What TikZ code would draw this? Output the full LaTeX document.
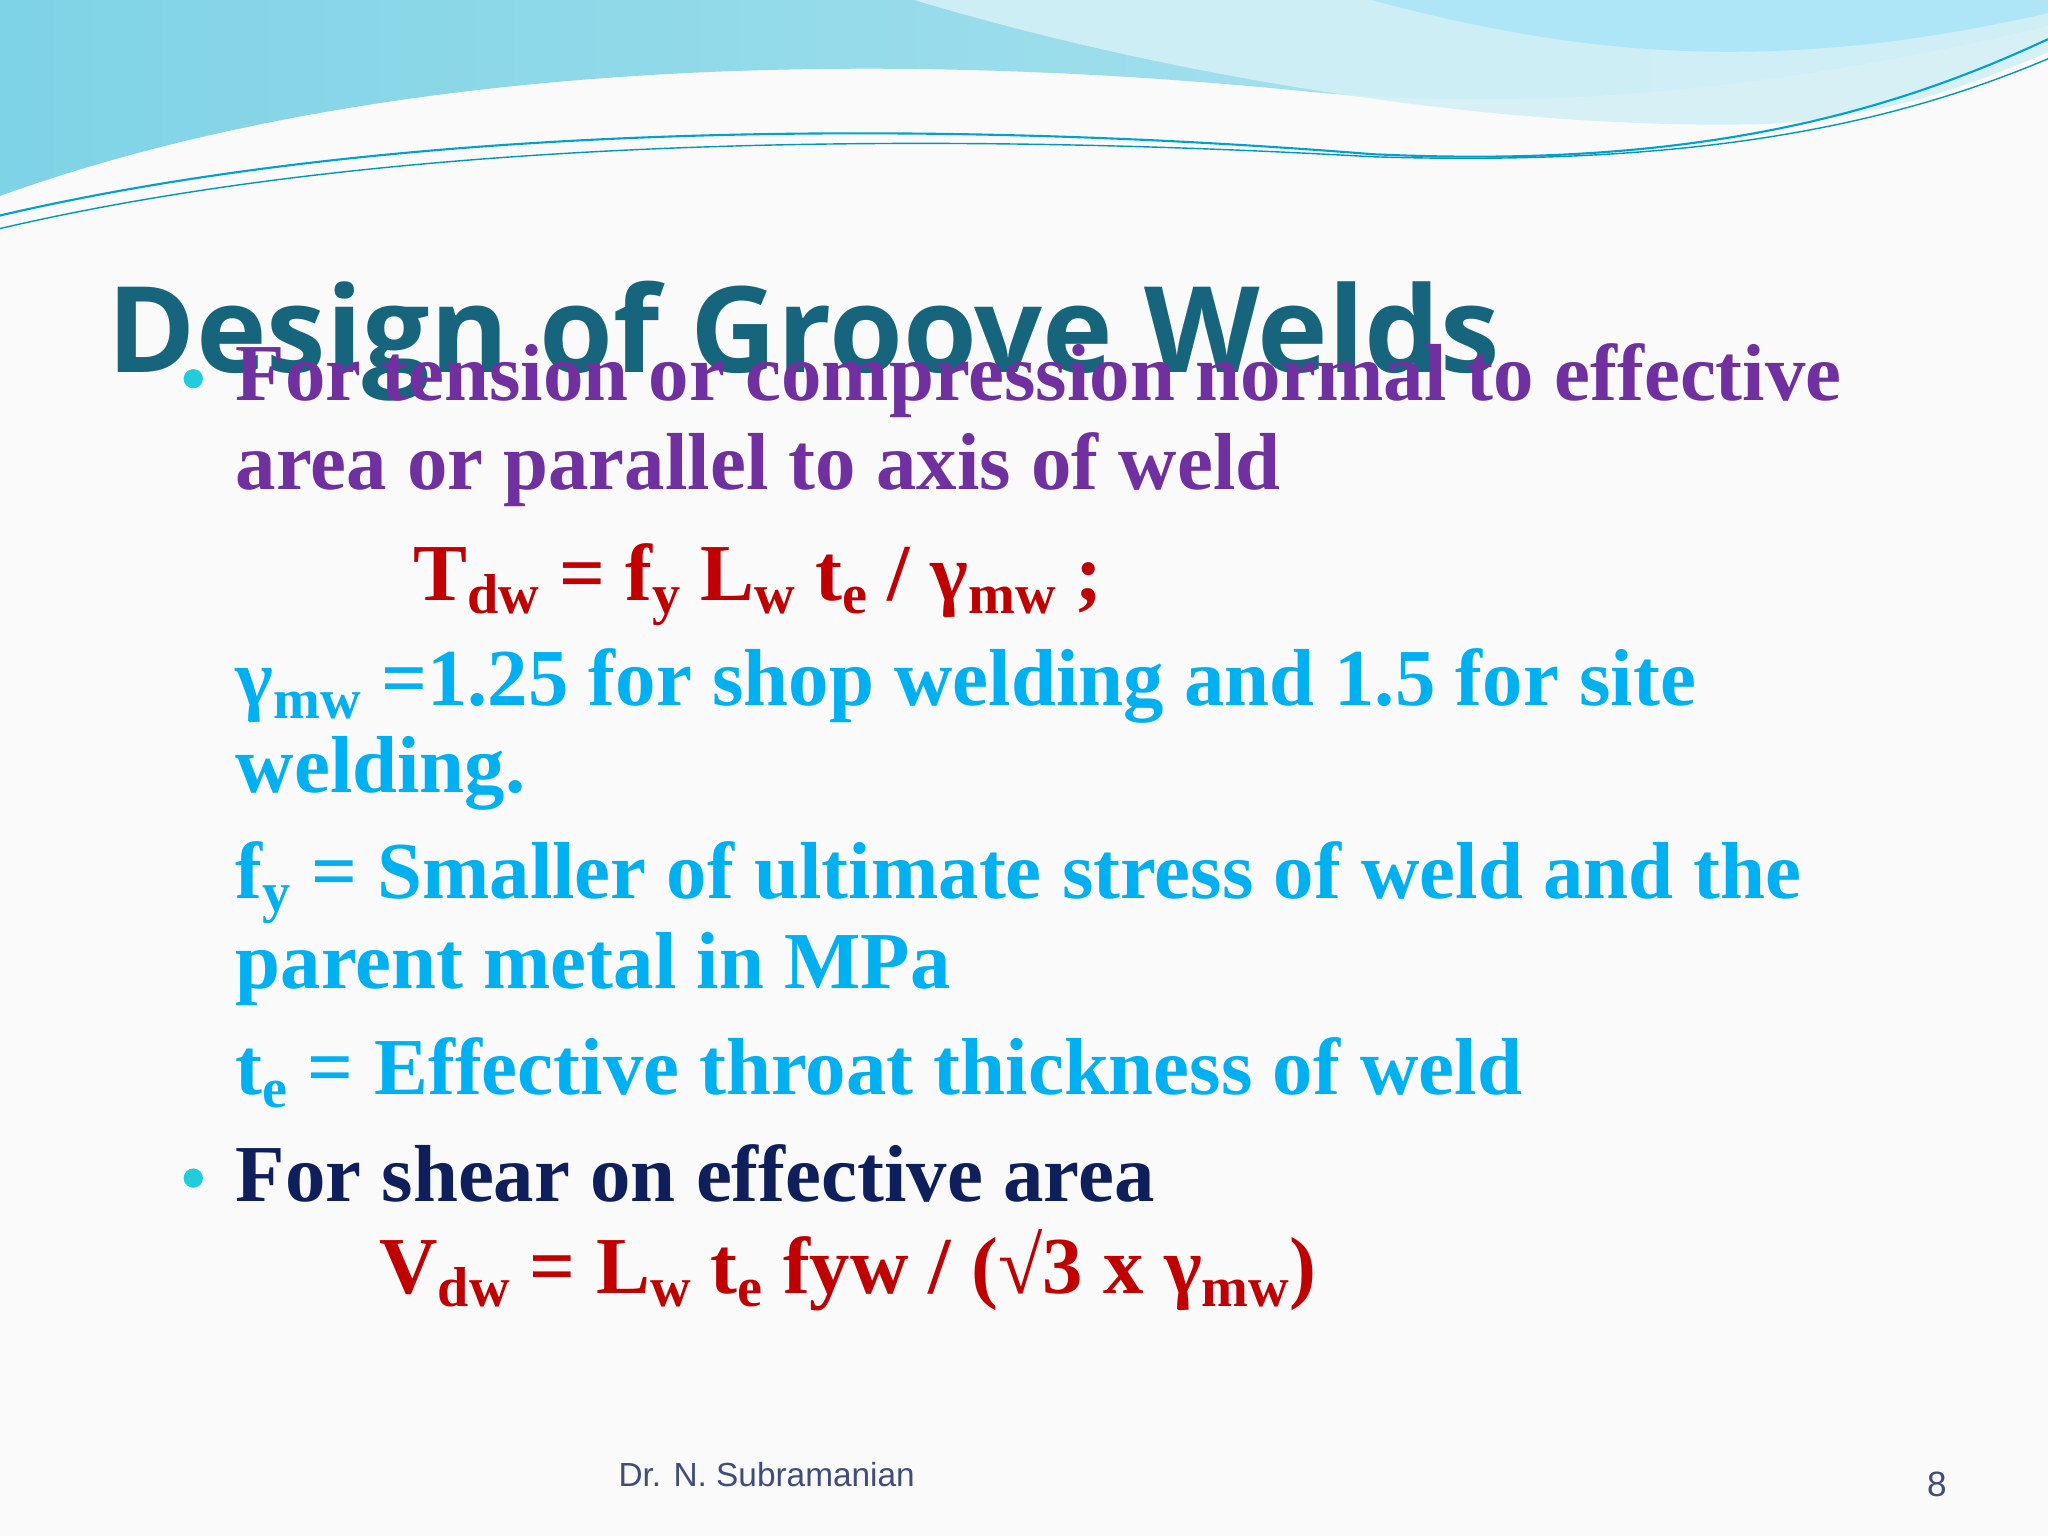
\documentclass[tikz,border=0pt]{standalone}
\usepackage{fontspec}
\setmainfont{Liberation Serif}
\newfontfamily\titlefont{Open Sans}
\newfontfamily\footfont{Liberation Sans}
\definecolor{ttl}{HTML}{17657D}
\definecolor{pur}{HTML}{7030A0}
\definecolor{rd}{HTML}{C00000}
\definecolor{cy}{HTML}{00B0F0}
\definecolor{nv}{HTML}{0F1F5C}
\definecolor{bul}{HTML}{22CCDD}
\definecolor{w1}{HTML}{7FD3E6}
\definecolor{w2}{HTML}{B5E6F0}
\newcommand{\sbs}[1]{\raisebox{-0.35ex}{\fontsize{16}{17}\selectfont\bfseries #1}}
\tikzset{txt/.style={anchor=base west,inner sep=0pt,font=\bfseries\fontsize{23}{27}\selectfont},
 bullet/.style={circle,fill=bul,inner sep=0pt,minimum size=5.5pt}}
\begin{document}
\begin{tikzpicture}[x=0.01306cm,y=-0.01306cm]
\useasboundingbox (0,0) rectangle (1568,1176);
\fill[white!96!gray] (0,0) rectangle (1568,1176);
% waves
\shade[left color=w1,right color=w2] (0,0) -- (0,150) .. controls (250,60) and (600,30) .. (1000,70) .. controls (1200,90) and (1400,60) .. (1568,20) -- (1568,0) -- cycle;
\fill[w2!60!white,opacity=0.9] (700,0) .. controls (900,60) and (1150,100) .. (1350,95) .. controls (1450,90) and (1520,60) .. (1568,40) -- (1568,0) -- cycle;
\fill[cy!40!white,opacity=0.6] (1050,0) .. controls (1200,40) and (1350,60) .. (1568,10) -- (1568,0) -- cycle;
\draw[cy!70!teal,line width=0.6pt] (0,165) .. controls (300,95) and (700,90) .. (1050,118) .. controls (1300,130) and (1450,85) .. (1568,30);
\draw[cy!50!teal,line width=0.4pt] (0,175) .. controls (300,105) and (700,100) .. (1050,120) .. controls (1300,128) and (1450,95) .. (1568,45);
\node[anchor=base west,inner sep=0pt,text=ttl,font=\titlefont\bfseries\fontsize{34}{40}\selectfont] (title) at (82,285) {Design of Groove Welds};
\node[bullet] (b1) at (148,290) {};
\node[txt,text=pur] (l1) at (180,307) {For tension or compression normal to effective};
\node[txt,text=pur] (l2) at (180,375) {area or parallel to axis of weld};
\node[txt,text=rd] (l3) at (316,460) {T\sbs{dw} = f\sbs{y} L\sbs{w} t\sbs{e} / γ\sbs{mw} ;};
\node[txt,text=cy] (l4) at (180,540) {γ\sbs{mw} =1.25 for shop welding and 1.5 for site};
\node[txt,text=cy] (l5) at (180,607) {welding.};
\node[txt,text=cy] (l6) at (180,688) {f\sbs{y} = Smaller of ultimate stress of weld and the};
\node[txt,text=cy] (l7) at (180,757) {parent metal in MPa};
\node[txt,text=cy] (l8) at (180,838) {t\sbs{e} = Effective throat thickness of weld};
\node[bullet] (b2) at (148,902) {};
\node[txt,text=nv] (l9) at (180,920) {For shear on effective area};
\node[txt,text=rd] (l10) at (290,990) {V\sbs{dw} = L\sbs{w} t\sbs{e} fyw / (√3 x γ\sbs{mw})};
\node[anchor=base west,inner sep=0pt,text=nv!80,font=\footfont\fontsize{9.5}{11}\selectfont] (ft) at (473,1138) {Dr. N. Subramanian};
\node[anchor=base west,inner sep=0pt,text=nv!80,font=\footfont\fontsize{10}{12}\selectfont] (pg) at (1475,1146) {8};
\end{tikzpicture}
\end{document}
